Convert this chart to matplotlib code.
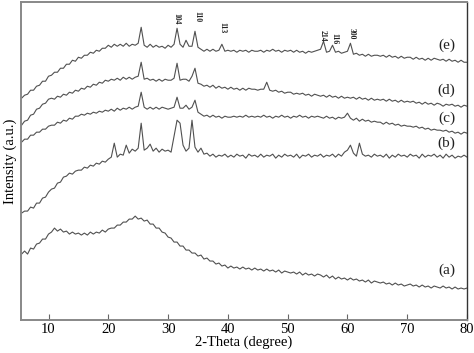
import numpy as np
import matplotlib.pyplot as plt

# 2-theta grid (degree), 0.5 step from 5.5 to 80
two_theta = np.arange(5.5, 80.01, 0.5)

# intensities (a.u., stacked offsets included)
curve_a = [66, 69, 66, 72, 71, 76, 77, 81, 81, 86,
           88, 92, 89, 91, 88, 89, 86, 88, 86, 87,
           85, 87, 85, 88, 86, 88, 87, 90, 88, 91,
           92, 92, 95, 95, 98, 98, 101, 101, 104, 101,
           102, 99, 100, 96, 96, 92, 92, 88, 87, 83,
           82, 78, 78, 74, 74, 70, 70, 67, 67, 64,
           65, 61, 62, 59, 59, 56, 57, 54, 55, 52,
           54, 52, 53, 51, 53, 51, 52, 50, 52, 50,
           51, 49, 51, 49, 50, 48, 50, 47, 49, 48,
           47, 48, 46, 48, 45, 47, 45, 46, 44, 46,
           45, 43, 45, 42, 44, 41, 43, 41, 42, 40,
           42, 40, 41, 39, 40, 38, 40, 37, 39, 38,
           37, 38, 36, 37, 35, 37, 35, 36, 34, 35,
           36, 34, 35, 33, 35, 33, 34, 32, 34, 33,
           32, 34, 32, 33, 31, 33, 31, 32, 31, 32]

curve_b = [107, 109, 109, 113, 112, 117, 117, 122, 123, 128,
           131, 132, 137, 138, 143, 144, 147, 146, 149, 150,
           150, 153, 152, 155, 154, 157, 156, 159, 158, 161,
           163, 177, 163, 166, 165, 175, 167, 171, 169, 172,
           197, 170, 172, 176, 169, 172, 168, 171, 169, 170,
           168, 184, 200, 197, 175, 169, 172, 200, 173, 168,
           172, 166, 167, 164, 166, 163, 165, 164, 166, 163,
           165, 163, 166, 164, 165, 162, 166, 164, 165, 163,
           166, 163, 165, 164, 166, 162, 165, 163, 166, 164,
           165, 163, 166, 162, 165, 164, 166, 163, 165, 164,
           166, 163, 165, 164, 166, 163, 166, 164, 168, 170,
           175, 167, 164, 177, 166, 164, 165, 163, 166, 164,
           165, 163, 166, 162, 165, 163, 166, 164, 165, 163,
           166, 164, 165, 162, 166, 163, 165, 164, 166, 163,
           165, 162, 166, 163, 165, 162, 164, 163, 165, 163]

curve_c = [178, 181, 181, 185, 185, 188, 188, 191, 191, 194,
           195, 195, 198, 197, 200, 199, 202, 201, 204, 204,
           206, 205, 207, 206, 208, 207, 209, 208, 210, 209,
           211, 209, 212, 210, 212, 211, 213, 211, 213, 214,
           228, 213, 211, 213, 211, 213, 211, 213, 212, 211,
           212, 213, 223, 212, 212, 215, 211, 213, 220, 208,
           206, 204, 205, 203, 205, 203, 204, 202, 204, 203,
           203, 204, 203, 204, 203, 205, 203, 204, 203, 204,
           203, 205, 203, 204, 202, 204, 203, 205, 203, 204,
           202, 204, 203, 205, 203, 204, 202, 204, 203, 204,
           203, 202, 204, 202, 203, 201, 203, 202, 203, 207,
           202, 200, 202, 199, 201, 199, 200, 198, 199, 198,
           198, 196, 198, 196, 197, 195, 196, 194, 195, 194,
           194, 193, 194, 192, 193, 191, 192, 190, 191, 190,
           190, 189, 190, 188, 189, 187, 188, 186, 188, 187]

curve_d = [195, 199, 200, 205, 206, 211, 212, 216, 217, 221,
           222, 221, 224, 223, 226, 225, 228, 227, 230, 229,
           232, 231, 234, 233, 236, 235, 238, 237, 240, 239,
           241, 240, 242, 240, 243, 241, 243, 241, 243, 244,
           258, 241, 242, 240, 241, 239, 241, 239, 241, 240,
           240, 242, 257, 240, 241, 241, 239, 244, 252, 237,
           236, 234, 235, 233, 235, 232, 234, 232, 233, 231,
           233, 231, 232, 230, 232, 230, 232, 231, 231, 230,
           231, 231, 238, 230, 229, 230, 228, 229, 227, 228,
           228, 226, 227, 226, 227, 225, 226, 224, 226, 225,
           224, 225, 223, 225, 223, 224, 222, 224, 222, 223,
           222, 223, 221, 223, 221, 222, 220, 222, 220, 221,
           220, 221, 219, 221, 219, 220, 218, 220, 218, 219,
           218, 219, 217, 218, 216, 218, 216, 217, 215, 217,
           216, 214, 216, 215, 216, 214, 215, 213, 215, 214]

curve_e = [222, 225, 226, 230, 230, 234, 235, 239, 239, 244,
           245, 248, 248, 252, 252, 256, 256, 260, 259, 263,
           262, 265, 265, 268, 267, 270, 269, 272, 272, 275,
           273, 276, 274, 276, 274, 277, 274, 276, 275, 277,
           293, 275, 273, 276, 273, 275, 273, 274, 272, 275,
           273, 276, 292, 276, 273, 280, 274, 274, 289, 273,
           271, 269, 271, 269, 271, 269, 270, 276, 269, 270,
           269, 270, 268, 270, 269, 270, 268, 270, 269, 269,
           270, 268, 270, 269, 271, 269, 270, 268, 270, 269,
           270, 268, 270, 268, 269, 267, 269, 268, 269, 270,
           271, 279, 268, 269, 275, 268, 269, 267, 268, 269,
           277, 266, 267, 265, 266, 264, 266, 264, 265, 265,
           264, 265, 263, 265, 263, 264, 262, 264, 262, 263,
           263, 261, 263, 261, 262, 260, 262, 260, 262, 261,
           260, 261, 259, 261, 259, 260, 258, 260, 258, 258]

curve_names = ['(a)', '(b)', '(c)', '(d)', '(e)']
name_y = [50, 177, 202, 230, 275]

peak_labels = ['104', '110', '113', '214', '116', '300']
peak_pos = [31.4, 34.9, 39.1, 55.8, 57.8, 60.7]
peak_text_y = [302, 304, 293, 285, 282, 287]

plt.rcParams['font.family'] = ['Liberation Serif', 'DejaVu Serif']

fig = plt.figure(figsize=(4.74, 3.53), dpi=100)
ax = fig.add_axes([0.0443, 0.0935, 0.941, 0.9])

for c in [curve_a, curve_b, curve_c, curve_d, curve_e]:
    ax.plot(two_theta, c, color='#505050', lw=0.8)

for n, yy in zip(curve_names, name_y):
    ax.text(76.6, yy, n, fontsize=11, ha='center', va='center', color='#222222')

for lab, px, py in zip(peak_labels, peak_pos, peak_text_y):
    ax.text(px, py, lab, fontsize=5.5, rotation=270, ha='center', va='center',
            fontweight='bold', color='#222222')

ax.set_xlim(5.4, 80)
ax.set_ylim(0, 318)
ax.set_xticks([10, 20, 30, 40, 50, 60, 70, 80])
ax.set_yticks([])
ax.tick_params(axis='x', direction='in', length=4, labelsize=10.5, color='#666666', pad=2)

for s in ['left', 'bottom', 'top']:
    ax.spines[s].set_color('#888888')
    ax.spines[s].set_linewidth(1.4)
ax.spines['right'].set_color('#333333')
ax.spines['right'].set_linewidth(1.0)

ax.set_xlabel('2-Theta (degree)', fontsize=10.5, labelpad=0)
ax.set_ylabel('Intensity (a.u.)', fontsize=10.5, labelpad=3)

fig.savefig('out.png', dpi=100)
